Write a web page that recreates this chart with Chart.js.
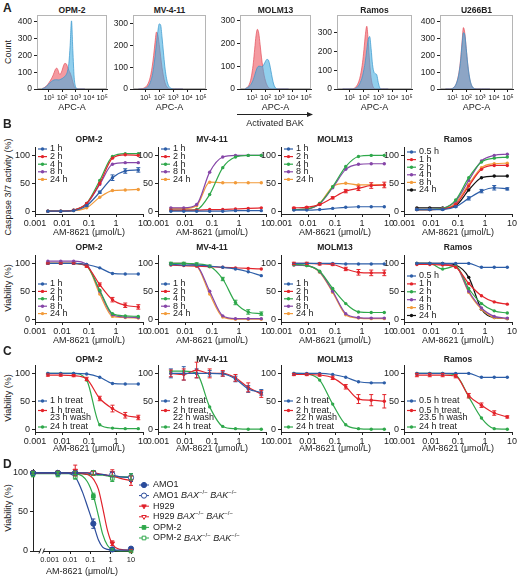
<!DOCTYPE html>
<html>
<head>
<meta charset="utf-8">
<script src="https://cdn.jsdelivr.net/npm/chart.js@4.4.1/dist/chart.umd.min.js"></script>
<style>
  body { margin: 0; width: 520px; height: 576px; position: relative; overflow: hidden; background: #fff;
         font-family: 'Liberation Sans', Arial, sans-serif; color: #222; }
  canvas { position: absolute; }
  .t { position: absolute; font-size: 8.5px; font-weight: bold; white-space: nowrap; transform: translate(-50%, -50%); }
  .n { position: absolute; font-size: 9px; white-space: nowrap; transform: translate(-50%, -50%); }
  .yt { position: absolute; font-size: 9px; white-space: nowrap; transform: translate(-50%, -50%) rotate(-90deg); }
  .L { position: absolute; font-size: 12px; font-weight: bold; transform: translate(0, -50%); }
</style>
</head>
<body>
<svg style="position:absolute;left:0;top:0" width="520" height="130">
  <line x1="237" y1="114.5" x2="309" y2="114.5" stroke="#222" stroke-width="1"/>
  <polygon points="313,114.5 307,112 307,117" fill="#222"/>
</svg>
<script>
const FAM = "'Liberation Sans', Arial, sans-serif"
Chart.defaults.font.family = FAM
Chart.defaults.color = '#222'

// ---- A: flow histograms (APC-A bins, counts) ----
const apcBins = [3.2, 4, 5, 6.3, 7.9, 10, 12.6, 15.8, 20, 25.1, 31.6, 39.8, 50.1, 63.1, 79.4, 100, 126, 158, 200, 251, 316, 398, 501, 631, 794, 1000, 1259, 1585, 1995, 2512, 3162, 3981, 5012]
const hOpmRed   = [3, 6, 10, 16, 25, 36, 48, 62, 78, 98, 118, 124, 110, 88, 92, 112, 138, 152, 150, 132, 112, 95, 72, 42, 16, 4, 0, 0, 0, 0, 0, 0, 0]
const hOpmBlue  = [2, 4, 8, 14, 22, 30, 38, 45, 50, 54, 55, 55, 54, 55, 58, 62, 68, 74, 85, 105, 150, 260, 405, 230, 70, 15, 3, 0, 0, 0, 0, 0, 0]
const hMvRed    = [0, 0, 1, 2, 4, 8, 14, 25, 42, 68, 105, 155, 215, 262, 250, 205, 150, 100, 60, 32, 15, 6, 2, 0, 0, 0, 0, 0, 0, 0, 0, 0, 0]
const hMvBlue   = [0, 0, 0, 0, 1, 3, 6, 12, 22, 38, 62, 100, 150, 210, 265, 300, 295, 240, 170, 105, 58, 28, 12, 5, 2, 0, 0, 0, 0, 0, 0, 0, 0]
const hMolRed   = [2, 5, 10, 20, 38, 70, 115, 175, 235, 262, 245, 195, 140, 95, 60, 35, 18, 8, 3, 1, 0, 0, 0, 0, 0, 0, 0, 0, 0, 0, 0, 0, 0]
const hMolBlue  = [2, 4, 7, 12, 18, 28, 42, 60, 80, 95, 100, 100, 98, 100, 110, 122, 130, 128, 110, 80, 48, 22, 8, 2, 0, 0, 0, 0, 0, 0, 0, 0, 0]
const hRamRed   = [0, 0, 0, 0, 0, 0, 0, 0, 3, 8, 18, 32, 55, 90, 140, 210, 290, 335, 250, 140, 60, 20, 5, 0, 0, 0, 0, 0, 0, 0, 0, 0, 0]
const hRamBlue  = [0, 0, 0, 0, 0, 0, 0, 0, 0, 3, 8, 15, 28, 45, 70, 105, 150, 210, 265, 280, 215, 130, 90, 82, 75, 35, 8, 0, 0, 0, 0, 0, 0]
const hU266Red  = [0, 0, 0, 0, 0, 3, 8, 18, 35, 65, 110, 180, 280, 365, 330, 240, 150, 85, 40, 18, 6, 2, 0, 0, 0, 0, 0, 0, 0, 0, 0, 0, 0]
const hU266Blue = [0, 0, 0, 0, 0, 3, 8, 18, 35, 62, 105, 170, 265, 335, 320, 240, 155, 90, 45, 20, 7, 2, 0, 0, 0, 0, 0, 0, 0, 0, 0, 0, 0]
const apcTicks = [10, 100, 1000, 10000, 100000]
const apcTickLabels = ['10¹', '10²', '10³', '10⁴', '10⁵']
const countTicks4 = [0, 100, 200, 300, 400]
const countTicks3 = [0, 100, 200, 300]

// ---- B/C: dose response (AM-8621 µmol/L) ----
const conc = [0.003, 0.009, 0.027, 0.082, 0.25, 0.74, 2.2, 6.7]
const concTicks = [0.001, 0.01, 0.1, 1, 10]
const pctTicks = [0, 50, 100]
const hoursA = ['1 h', '2 h', '4 h', '8 h', '24 h']
const hoursR = ['0.5 h', '1 h', '2 h', '4 h', '8 h', '24 h']

const casOpm1 = [0, 0, 1, 10, 34, 60, 72, 74]
const casOpm2 = [0, 0, 2, 14, 50, 95, 101, 100]
const casOpm4 = [0, 0, 2, 14, 55, 98, 103, 103]
const casOpm8 = [0, 0, 2, 13, 48, 84, 87, 87]
const casOpm24 = [0, 0, 1, 6, 25, 37, 38, 39]
const casMv1 = [0, 0, 0, 0, 0, 1, 1, 1]
const casMv2 = [2, 2, 2, 3, 3, 4, 5, 6]
const casMv4 = [2, 2, 3, 30, 78, 97, 100, 100]
const casMv8 = [6, 6, 12, 70, 97, 100, 100, 100]
const casMv24 = [5, 5, 10, 52, 51, 51, 51, 51]
const casMol1 = [2, 2, 3, 5, 7, 8, 8, 8]
const casMol2 = [6, 7, 12, 24, 36, 41, 46, 47]
const casMol4 = [3, 4, 14, 44, 80, 98, 100, 100]
const casMol8 = [3, 4, 13, 42, 75, 84, 85, 85]
const casMol24 = [3, 4, 14, 44, 50, 47, 47, 47]
const casRam05 = [3, 3, 3, 8, 23, 36, 42, 40]
const casRam1 = [3, 3, 4, 12, 45, 75, 82, 82]
const casRam2 = [3, 3, 5, 20, 60, 88, 95, 97]
const casRam4 = [3, 3, 5, 18, 55, 90, 100, 102]
const casRam8 = [3, 3, 4, 15, 48, 78, 85, 86]
const casRam24 = [6, 6, 6, 10, 38, 60, 63, 63]

const viaOpm1 = [100, 100, 100, 98, 92, 82, 81, 81]
const viaOpm2 = [100, 100, 100, 95, 62, 35, 25, 22]
const viaOpm4 = [100, 100, 100, 95, 52, 10, 6, 5]
const viaOpm8 = [104, 104, 104, 98, 50, 8, 4, 3]
const viaOpm24 = [100, 100, 100, 96, 45, 5, 3, 2]
const viaMv1 = [98, 97, 97, 95, 93, 90, 85, 78]
const viaMv2 = [97, 96, 95, 94, 93, 92, 91, 90]
const viaMv4 = [100, 100, 99, 95, 72, 30, 13, 10]
const viaMv8 = [100, 100, 96, 50, 6, 1, 1, 1]
const viaMv24 = [100, 100, 95, 45, 4, 0, 0, 0]
const viaMol1 = [100, 100, 100, 100, 99, 99, 99, 99]
const viaMol2 = [100, 100, 99, 98, 90, 84, 83, 83]
const viaMol4 = [98, 96, 86, 55, 28, 13, 12, 12]
const viaMol8 = [97, 96, 85, 50, 10, 3, 2, 2]
const viaMol24 = [97, 96, 84, 48, 8, 2, 1, 1]
const viaRam05 = [100, 100, 100, 100, 100, 93, 93, 93]
const viaRam1 = [98, 98, 97, 93, 64, 42, 31, 27]
const viaRam2 = [100, 100, 90, 95, 55, 28, 15, 11]
const viaRam4 = [100, 100, 98, 95, 50, 20, 5, 2]
const viaRam8 = [100, 100, 98, 95, 48, 18, 3, 1]
const viaRam24 = [100, 100, 100, 97, 75, 18, 3, 1]

const washOpmT = [100, 100, 100, 99, 93, 82, 81, 81]
const washOpmW = [97, 97, 96, 90, 55, 37, 25, 21]
const washOpm24 = [100, 100, 100, 88, 8, 2, 1, 1]
const washMvT = [100, 100, 100, 100, 99, 90, 72, 66]
const washMvW = [100, 98, 106, 100, 100, 92, 75, 63]
const washMv24 = [104, 104, 100, 40, 5, 1, 0, 0]
const washMolT = [100, 100, 100, 98, 93, 85, 83, 83]
const washMolW = [98, 98, 97, 92, 76, 54, 52, 50]
const washMol24 = [100, 99, 88, 45, 8, 1, 0, 0]
const washRamT = [100, 100, 100, 100, 100, 93, 93, 93]
const washRamW = [97, 97, 97, 95, 60, 43, 29, 22]
const washRam24 = [100, 100, 100, 97, 58, 20, 1, 0]

// error bars (±, same units), only where visible
const errCasOpm1 = [0, 0, 0, 1, 2, 5, 4, 4]
const errCasMol2 = [1, 1, 1, 2, 3, 4, 5, 5]
const errCasRam05 = [1, 1, 1, 1, 3, 3, 4, 2]
const errViaOpm2 = [1, 1, 1, 2, 3, 4, 4, 4]
const errViaMv4 = [2, 2, 2, 2, 3, 4, 4, 3]
const errViaMol2 = [2, 2, 2, 2, 3, 5, 5, 5]
const errWashMvT = [8, 12, 8, 5, 4, 5, 6, 5]
const errWashMvW = [6, 10, 14, 8, 5, 6, 8, 6]
const errWashMolW = [2, 2, 2, 3, 4, 8, 10, 12]
const errWashOpmW = [2, 2, 2, 3, 4, 6, 5, 4]
const errWashRamW = [3, 3, 3, 3, 4, 4, 4, 2]

// ---- D: knockout lines ----
const concD = [0.00015, 0.0025, 0.018, 0.14, 1.2, 10]
const dAmo = [100, 100, 100, 35, 2, 3]
const dAmoKo = [100, 100, 100, 100, 98, 94]
const dH929 = [100, 100, 103, 100, 10, 1]
const dH929Ko = [100, 100, 100, 100, 100, 90]
const dOpm = [100, 100, 100, 70, 2, 0]
const dOpmKo = [98, 98, 95, 100, 93, 95]
const errDAmo = [3, 2, 3, 6, 1, 1]
const errDAmoKo = [2, 2, 2, 3, 3, 5]
const errDH929 = [2, 2, 7, 2, 3, 1]
const errDH929Ko = [2, 2, 2, 3, 4, 6]
const errDOpm = [2, 2, 2, 4, 1, 1]
const errDOpmKo = [3, 3, 3, 3, 4, 4]
const dGrid = [0.00015, 0.001, 0.005, 0.01, 0.02, 0.04, 0.07, 0.1, 0.15, 0.25, 0.4, 0.7, 1.2, 3, 10]
const dAmoFit = [100, 100, 100, 99, 93, 76, 58, 46, 32, 14, 5, 2, 1, 1, 1]
const dAmoKoFit = [100, 100, 100, 100, 100, 100, 100, 99, 99, 98, 98, 97, 97, 95, 94]
const dH929Fit = [100, 100, 100, 100, 100, 99, 98, 96, 91, 79, 56, 26, 9, 2, 1]
const dH929KoFit = [100, 100, 100, 100, 100, 100, 100, 100, 100, 99, 98, 97, 96, 93, 90]
const dOpmFit = [100, 100, 100, 100, 99, 96, 89, 81, 68, 45, 22, 7, 2, 0, 0]
const dOpmKoFit = [99, 99, 99, 99, 99, 99, 98, 98, 98, 97, 97, 96, 95, 95, 95]
const dBreak = [0.00033, 0.0005]

const BLUE = '#2d5ea8', RED = '#e3242b', GREEN = '#2fa84b', PURPLE = '#8646a8', ORANGE = '#f29b3a', BLACK = '#111'
const colorsA = [BLUE, RED, GREEN, PURPLE, ORANGE]
const colorsR = [BLUE, RED, GREEN, PURPLE, ORANGE, BLACK]
const colorsC = [BLUE, RED, GREEN]
const tickFont = { family: FAM, size: 9 }

// ---- plugins ----
const inLegend = {
  id: 'inLegend',
  afterDatasetsDraw(chart, args, o) {
    if (!o || !o.show) return
    const ctx = chart.ctx, a = chart.chartArea
    let y = a.top + o.dy
    ctx.save()
    ctx.font = '9px ' + FAM
    ctx.textBaseline = 'middle'
    chart.data.datasets.forEach(ds => {
      const x = a.left + o.dx
      ctx.strokeStyle = ds.borderColor
      ctx.lineWidth = 1.2
      ctx.beginPath(); ctx.moveTo(x, y); ctx.lineTo(x + 9, y); ctx.stroke()
      ctx.fillStyle = ds.borderColor
      ctx.beginPath(); ctx.arc(x + 4.5, y, 1.7, 0, Math.PI * 2); ctx.fill()
      ctx.fillStyle = '#222'
      const lines = ds.label.split('\n')
      lines.forEach((t, i) => ctx.fillText(t, x + 12, y + i * o.lh))
      y += o.gap + (lines.length - 1) * o.lh
    })
    ctx.restore()
  }
}

const errBars = {
  id: 'errBars',
  afterDatasetsDraw(chart) {
    const ctx = chart.ctx, xs = chart.scales.x, ys = chart.scales.y
    chart.data.datasets.forEach(ds => {
      if (!ds.err) return
      ctx.save()
      ctx.strokeStyle = ds.pointBorderColor || ds.borderColor
      ctx.lineWidth = 1
      ds.data.forEach((p, i) => {
        const e = ds.err[i]
        if (!e) return
        const x = xs.getPixelForValue(p.x)
        const y1 = ys.getPixelForValue(p.y - e), y2 = ys.getPixelForValue(p.y + e)
        ctx.beginPath()
        ctx.moveTo(x, y1); ctx.lineTo(x, y2)
        ctx.moveTo(x - 2, y1); ctx.lineTo(x + 2, y1)
        ctx.moveTo(x - 2, y2); ctx.lineTo(x + 2, y2)
        ctx.stroke()
      })
      ctx.restore()
    })
  }
}

const frame = {
  id: 'frame',
  beforeDatasetsDraw(chart, args, o) {
    if (!o || !o.show) return
    const c = chart.ctx, r = chart.chartArea
    c.save()
    c.strokeStyle = '#b5b5b5'
    c.lineWidth = 1
    c.strokeRect(r.left + 0.5, r.top + 0.5, r.width - 1, r.height - 1)
    c.restore()
  }
}

// white gap in the x axis line between two values
const axisBreak = {
  id: 'axisBreak',
  afterDraw(chart, args, o) {
    if (!o || !o.range) return
    const c = chart.ctx, xs = chart.scales.x, b = chart.chartArea.bottom
    const x1 = xs.getPixelForValue(o.range[0]), x2 = xs.getPixelForValue(o.range[1])
    c.save()
    c.fillStyle = '#fff'
    c.fillRect(x1, b - 2, x2 - x1, 5)
    c.strokeStyle = '#222'
    c.lineWidth = 1
    c.beginPath()
    c.moveTo(x1 - 1, b + 2.5); c.lineTo(x1 + 1, b - 2.5)
    c.moveTo(x2 - 1, b + 2.5); c.lineTo(x2 + 1, b - 2.5)
    c.stroke()
    c.restore()
  }
}

const richLegend = {
  id: 'richLegend',
  afterDraw(chart, args, o) {
    if (!o || !o.items) return
    const ctx = chart.ctx, a = chart.chartArea
    ctx.save()
    o.items.forEach((it, k) => {
      const ds = chart.data.datasets[it.ds]
      const x = a.right + o.dx, y = a.top + o.dy + k * o.gap
      ctx.strokeStyle = ds.pointBorderColor
      ctx.lineWidth = 1
      ctx.beginPath(); ctx.moveTo(x - 5, y); ctx.lineTo(x + 5, y); ctx.stroke()
      ctx.fillStyle = ds.pointBackgroundColor
      Chart.helpers.drawPoint(ctx, { pointStyle: ds.pointStyle, radius: 2.6, rotation: ds.pointRotation || 0, borderWidth: 1 }, x, y)
      let tx = x + 9
      ctx.fillStyle = '#222'
      ctx.textBaseline = 'middle'
      it.segs.forEach(([s, f]) => {
        ctx.font = f === 'i' ? 'italic 9px ' + FAM : f === 's' ? '6px ' + FAM : '9px ' + FAM
        ctx.fillText(s, tx, f === 's' ? y - 3 : y)
        tx += ctx.measureText(s).width
      })
    })
    ctx.restore()
  }
}

Chart.register(inLegend, errBars, frame, axisBreak, richLegend)

// ---- helpers ----
function addText(html, x, y, cls) {
  const d = document.createElement('div')
  d.className = cls
  d.innerHTML = html
  d.style.left = x + 'px'
  d.style.top = y + 'px'
  document.body.appendChild(d)
}

function addChart(area, yW, xH, padR, cfg) {
  const padT = 10
  const cv = document.createElement('canvas')
  cv.width = area.r - area.l + yW + padR
  cv.height = area.b - area.t + padT + xH
  cv.style.left = (area.l - yW) + 'px'
  cv.style.top = (area.t - padT) + 'px'
  document.body.appendChild(cv)
  const o = cfg.options
  o.responsive = false
  o.animation = false
  o.events = []
  o.layout = { padding: { top: padT, right: padR, left: 0, bottom: 0 } }
  o.scales.x.afterFit = s => { s.height = xH }
  o.scales.y.afterFit = s => { s.width = yW }
  o.plugins = Object.assign({ legend: { display: false }, tooltip: { enabled: false } }, o.plugins)
  return new Chart(cv, cfg)
}

function axisStyle() {
  return {
    grid: { drawOnChartArea: false, tickLength: 3, color: '#222', lineWidth: 1 },
    border: { color: '#222', width: 1 }
  }
}

function xConc(min, size) {
  return Object.assign(axisStyle(), {
    type: 'logarithmic', min: min || 0.001, max: 10,
    afterBuildTicks: s => { s.ticks = concTicks.map(v => ({ value: v })) },
    ticks: { callback: v => String(v), font: { family: FAM, size: size || 9 }, padding: 1, maxRotation: 0, autoSkip: false },
    title: { display: true, text: 'AM-8621 (μmol/L)', font: tickFont, padding: 0 }
  })
}

function yPct(min, max) {
  return Object.assign(axisStyle(), {
    min, max,
    afterBuildTicks: s => { s.ticks = pctTicks.map(v => ({ value: v })) },
    ticks: { font: tickFont, padding: 2 }
  })
}

// ---- A ----
function histPanel(area, title, red, blue, yMax, yTicks, yTitle) {
  addText(title, (area.l + area.r) / 2, 10, 't')
  if (yTitle) addText(yTitle, 8, (area.t + area.b) / 2, 'yt')
  addChart(area, 24, 24, 8, {
    type: 'line',
    data: {
      datasets: [
        { data: apcBins.map((x, i) => ({ x, y: blue[i] })), fill: 'origin', backgroundColor: 'rgba(66,172,224,0.58)',
          borderColor: 'rgba(55,150,205,0.9)', borderWidth: 0.8, pointRadius: 0, cubicInterpolationMode: 'monotone' },
        { data: apcBins.map((x, i) => ({ x, y: red[i] })), fill: 'origin', backgroundColor: 'rgba(238,92,102,0.62)',
          borderColor: 'rgba(228,80,92,0.9)', borderWidth: 0.8, pointRadius: 0, cubicInterpolationMode: 'monotone' }
      ]
    },
    options: {
      plugins: { frame: { show: true } },
      scales: {
        x: Object.assign(axisStyle(), {
          type: 'logarithmic', min: 1.3, max: 230000,
          afterBuildTicks: s => { s.ticks = apcTicks.map(v => ({ value: v })) },
          ticks: { callback: (v, i) => apcTickLabels[i], font: { family: FAM, size: 7.5 }, padding: 1, maxRotation: 0, autoSkip: false },
          title: { display: true, text: 'APC-A', font: tickFont, padding: 0 }
        }),
        y: Object.assign(axisStyle(), {
          min: 0, max: yMax,
          afterBuildTicks: s => { s.ticks = yTicks.map(v => ({ value: v })) },
          ticks: { font: { family: FAM, size: 8.5 }, padding: 2 }
        })
      }
    }
  })
}

histPanel({ l: 37, r: 107, t: 15, b: 89 }, 'OPM-2', hOpmRed, hOpmBlue, 440, countTicks4, 'Count')
histPanel({ l: 133, r: 206, t: 15, b: 89 }, 'MV-4-11', hMvRed, hMvBlue, 341, countTicks3)
histPanel({ l: 240, r: 311, t: 15, b: 89 }, 'MOLM13', hMolRed, hMolBlue, 325, countTicks3)
histPanel({ l: 337, r: 412, t: 15, b: 89 }, 'Ramos', hRamRed, hRamBlue, 395, countTicks3)
histPanel({ l: 440, r: 513, t: 15, b: 89 }, 'U266B1', hU266Red, hU266Blue, 440, countTicks4)
addText('Activated BAK', 275, 123, 'n')

// ---- B / C ----
const colL = [35, 158, 281, 404]
const rowB1 = { t: 147, b: 214, xH: 24, titleY: 139 }
const rowB2 = { t: 255, b: 322, xH: 24, titleY: 247 }
const rowC = { t: 365, b: 432, xH: 22, titleY: 359 }

function drPanel(col, row, title, labels, series, colors, errs, lg) {
  const area = { l: colL[col], r: colL[col] + 108, t: row.t, b: row.b }
  addText(title, (area.l + area.r) / 2, row.titleY, 't')
  const datasets = series.map((vals, i) => ({
    label: labels[i],
    data: vals.map((v, j) => ({ x: conc[j], y: v })),
    borderColor: colors[i], backgroundColor: colors[i],
    borderWidth: 1.2, pointRadius: 1.7, pointBorderWidth: 0,
    cubicInterpolationMode: 'monotone', clip: false,
    err: errs ? errs[i] : null
  }))
  addChart(area, 24, row.xH, 10, {
    type: 'line',
    data: { datasets },
    options: {
      plugins: { inLegend: lg },
      scales: { x: xConc(), y: yPct(-5, 115) }
    }
  })
}

const lgB1 = { show: true, dx: 3, dy: 2, gap: 7.6, lh: 7 }
const lgB1r = { show: true, dx: 3, dy: 5, gap: 7.6, lh: 7 }
const lgB2 = { show: true, dx: 3, dy: 29, gap: 7.4, lh: 7 }
const lgB2r = { show: true, dx: 3, dy: 21, gap: 7.9, lh: 7 }
const lgC = { show: true, dx: 3, dy: 36, gap: 9.5, lh: 7 }

addText('Caspase 3/7 activity (%)', 8, 187, 'yt')
drPanel(0, rowB1, 'OPM-2', hoursA, [casOpm1, casOpm2, casOpm4, casOpm8, casOpm24], colorsA, [errCasOpm1], lgB1)
drPanel(1, rowB1, 'MV-4-11', hoursA, [casMv1, casMv2, casMv4, casMv8, casMv24], colorsA, null, lgB1)
drPanel(2, rowB1, 'MOLM13', hoursA, [casMol1, casMol2, casMol4, casMol8, casMol24], colorsA, [null, errCasMol2], lgB1)
drPanel(3, rowB1, 'Ramos', hoursR, [casRam05, casRam1, casRam2, casRam4, casRam8, casRam24], colorsR, [errCasRam05], lgB1r)

addText('Viability (%)', 8, 288, 'yt')
drPanel(0, rowB2, 'OPM-2', hoursA, [viaOpm1, viaOpm2, viaOpm4, viaOpm8, viaOpm24], colorsA, [null, errViaOpm2], lgB2)
drPanel(1, rowB2, 'MV-4-11', hoursA, [viaMv1, viaMv2, viaMv4, viaMv8, viaMv24], colorsA, [null, null, errViaMv4], lgB2)
drPanel(2, rowB2, 'MOLM13', hoursA, [viaMol1, viaMol2, viaMol4, viaMol8, viaMol24], colorsA, [null, errViaMol2], lgB2)
drPanel(3, rowB2, 'Ramos', hoursR, [viaRam05, viaRam1, viaRam2, viaRam4, viaRam8, viaRam24], colorsR, null, lgB2r)

addText('Viability (%)', 8, 398, 'yt')
drPanel(0, rowC, 'OPM-2', ['1 h treat', '1 h treat,\n23 h wash', '24 h treat'], [washOpmT, washOpmW, washOpm24], colorsC, [null, errWashOpmW], lgC)
drPanel(1, rowC, 'MV-4-11', ['2 h treat', '2 h treat,\n22 h wash', '24 h treat'], [washMvT, washMvW, washMv24], colorsC, [errWashMvT, errWashMvW], lgC)
drPanel(2, rowC, 'MOLM13', ['2 h treat', '2 h treat,\n22 h wash', '24 h treat'], [washMolT, washMolW, washMol24], colorsC, [null, errWashMolW], lgC)
drPanel(3, rowC, 'Ramos', ['0.5 h treat', '0.5 h treat,\n23.5 h wash', '24 h treat'], [washRamT, washRamW, washRam24], colorsC, [null, errWashRamW], lgC)

// ---- D ----
const D_BLUE = '#2b4c9b', D_RED = '#e0202a', D_GREEN = '#2fa84b'
function dPoints(vals, err, color, style, filled, rot) {
  return {
    data: vals.map((v, i) => ({ x: concD[i], y: v })), err, showLine: false, clip: false,
    pointStyle: style, pointRotation: rot || 0, pointRadius: 2.6, pointBorderWidth: 1,
    pointBorderColor: color, borderColor: color, pointBackgroundColor: filled ? color : '#fff'
  }
}
function dFit(vals, color) {
  return {
    data: vals.map((v, i) => ({ x: dGrid[i], y: v })), borderColor: color, borderWidth: 1.2,
    pointRadius: 0, cubicInterpolationMode: 'monotone', clip: false
  }
}
const ko = [['BAX', 'i'], ['−/−', 's'], [' ', 'n'], ['BAK', 'i'], ['−/−', 's']]
const dLegend = [
  { ds: 0, segs: [['AMO1', 'n']] },
  { ds: 1, segs: [['AMO1 ', 'n']].concat(ko) },
  { ds: 2, segs: [['H929', 'n']] },
  { ds: 3, segs: [['H929 ', 'n']].concat(ko) },
  { ds: 4, segs: [['OPM-2', 'n']] },
  { ds: 5, segs: [['OPM-2 ', 'n']].concat(ko) }
]
addText('Viability (%)', 8, 508, 'yt')
addChart({ l: 33, r: 131, t: 469, b: 551 }, 31, 26, 129, {
  type: 'line',
  data: {
    datasets: [
      dPoints(dAmo, errDAmo, D_BLUE, 'circle', true),
      dPoints(dAmoKo, errDAmoKo, D_BLUE, 'circle', false),
      dPoints(dH929, errDH929, D_RED, 'triangle', true, 180),
      dPoints(dH929Ko, errDH929Ko, D_RED, 'triangle', false, 180),
      dPoints(dOpm, errDOpm, D_GREEN, 'rect', true),
      dPoints(dOpmKo, errDOpmKo, D_GREEN, 'rect', false),
      dFit(dAmoFit, D_BLUE), dFit(dAmoKoFit, D_BLUE),
      dFit(dH929Fit, D_RED), dFit(dH929KoFit, D_RED),
      dFit(dOpmFit, D_GREEN), dFit(dOpmKoFit, D_GREEN)
    ]
  },
  options: {
    plugins: { richLegend: { items: dLegend, dx: 13, dy: 16, gap: 10.6 }, axisBreak: { range: dBreak } },
    scales: { x: xConc(0.00015, 7.5), y: yPct(0, 105) }
  }
})

addText('A', 3, 8, 'L')
addText('B', 3, 124, 'L')
addText('C', 3, 351, 'L')
addText('D', 3, 464, 'L')
</script>
</body>
</html>
